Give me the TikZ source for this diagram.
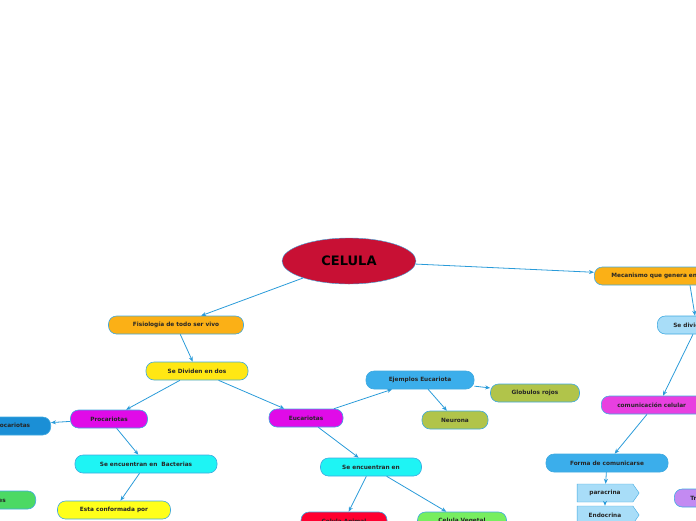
\documentclass[tikz,border=0pt]{standalone}
\usepackage{fontspec}
\setmainfont{DejaVu Sans}
\usetikzlibrary{shapes.geometric,shapes.symbols,arrows.meta}
\definecolor{ln}{HTML}{2A9BD9}
\definecolor{bd}{HTML}{3FA9E0}
\begin{document}
\begin{tikzpicture}[x=1pt,y=-1pt,
 bx/.style={draw=bd,line width=0.6pt,rounded corners=8pt,minimum height=18pt,inner sep=2pt,font=\fontsize{5.8}{6}\selectfont\bfseries,text=black!85},
 ar/.style={ln,line width=0.8pt,-{Stealth[length=5pt,width=4pt]}},
 sg/.style={draw=bd,fill=lb,signal,signal to=east,signal pointer angle=110,minimum height=18pt,inner sep=2pt,font=\fontsize{5.8}{6}\selectfont\bfseries,text=black!85,minimum width=62pt}]
\definecolor{lb}{HTML}{A8DDF8}
\useasboundingbox (0,0) rectangle (696,520);
\clip (0,0) rectangle (696,520);
\node[draw=bd,fill={rgb,255:red,200;green,16;blue,52},ellipse,minimum width=134pt,minimum height=46pt,font=\fontsize{13}{14}\selectfont\bfseries] (cel) at (349,261) {CELULA};
\node[bx,fill={rgb,255:red,251;green,176;blue,22},minimum width=135pt] (fis) at (176,325) {Fisiología de todo ser vivo};
\node[bx,fill={rgb,255:red,255;green,231;blue,20},minimum width=102pt] (div) at (197,371) {Se Dividen en dos};
\node[bx,fill={rgb,255:red,224;green,11;blue,232},minimum width=77pt] (pro) at (109,419) {Procariotas};
\node[bx,fill={rgb,255:red,27;green,143;blue,214},minimum width=110pt,anchor=east,inner xsep=14pt] (epr) at (51,426) {Ejemplos Procariotas};
\node[bx,fill={rgb,255:red,76;green,217;blue,100},minimum width=80pt,anchor=east] (gen) at (36,500) {Genes};
\node[bx,fill={rgb,255:red,30;green,244;blue,244},minimum width=142pt] (bac) at (146,464) {Se encuentran en\ \ Bacterias};
\node[bx,fill={rgb,255:red,255;green,255;blue,26},minimum width=113pt] (con) at (114,510) {Esta conformada por};
\node[bx,fill={rgb,255:red,224;green,11;blue,232},minimum width=74pt] (euc) at (306,418) {Eucariotas};
\node[bx,fill={rgb,255:red,59;green,174;blue,235},minimum width=108pt] (eje) at (420,380) {Ejemplos Eucariota};
\node[bx,fill={rgb,255:red,177;green,196;blue,74},minimum width=89pt] (glo) at (535,393) {Globulos rojos};
\node[bx,fill={rgb,255:red,177;green,196;blue,74},minimum width=66pt] (neu) at (455,420) {Neurona};
\node[bx,fill={rgb,255:red,30;green,244;blue,244},minimum width=101pt] (sen) at (371,467) {Se encuentran en};
\node[bx,fill={rgb,255:red,255;green,0;blue,48},minimum width=86pt] (ani) at (344,521) {Celula Animal};
\node[bx,fill={rgb,255:red,119;green,238;blue,96},minimum width=89pt] (veg) at (462,521) {Celula Vegetal};
\node[bx,fill={rgb,255:red,251;green,176;blue,22},text width=150pt,inner xsep=6pt,align=left,anchor=west] (mec) at (594,276) {\hspace{11pt}Mecanismo que genera energía};
\node[bx,fill=lb,text width=84pt,inner xsep=6pt,align=left,anchor=west] (sdv) at (657,325) {\hspace{10pt}Se divide en};
\node[bx,fill={rgb,255:red,232;green,64;blue,224},text width=124pt,inner xsep=6pt,align=left,anchor=west] (com) at (601,405) {\hspace{10pt}comunicación celular};
\node[bx,fill={rgb,255:red,59;green,174;blue,235},minimum width=122pt] (for) at (607,463) {Forma de comunicarse};
\node[sg] (par) at (605,493) {paracrina\hspace{8pt}};
\node[sg] (end) at (605,515) {Endocrina\hspace{8pt}};
\node[bx,fill={rgb,255:red,195;green,138;blue,242},text width=64pt,inner xsep=6pt,align=left,anchor=west] (tr) at (674,498) {\hspace{10pt}Transmisión};
\draw[ar] (cel) -- (fis);
\draw[ar] (cel) -- (mec);
\draw[ar] (fis) -- (div);
\draw[ar] (div) -- (pro);
\draw[ar] (div) -- (euc);
\draw[ar] (pro) -- (epr);
\draw[ar] (pro) -- (bac);
\draw[ar] (bac) -- (con);
\draw[ar] (euc) -- (eje);
\draw[ar] (euc) -- (sen);
\draw[ar] (eje) -- (glo);
\draw[ar] (eje) -- (neu);
\draw[ar] (sen) -- (ani);
\draw[ar] (sen) -- (veg);
\draw[ar] ([xshift=96pt]mec.south west) -- ([xshift=38pt]sdv.north west);
\draw[ar] ([xshift=36pt]sdv.south west) -- ([xshift=62pt]com.north west);
\draw[ar] ([xshift=46pt]com.south west) -- (for);
\draw[ar] (for) -- (par);
\draw[ar] (par) -- (end);
\end{tikzpicture}
\end{document}
